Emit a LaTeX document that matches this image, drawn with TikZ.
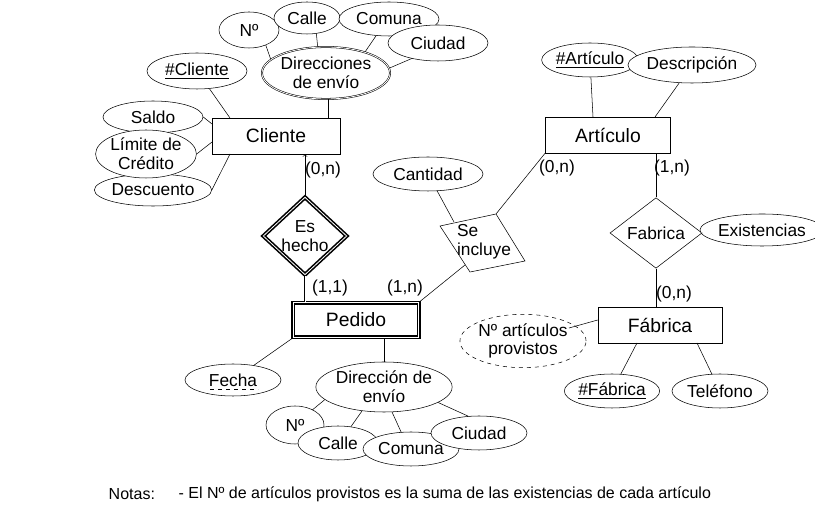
\documentclass[tikz,border=0pt]{standalone}
\usepackage{fontspec}
\setmainfont{Liberation Sans}
\usetikzlibrary{shapes.geometric}
\begin{document}
\begin{tikzpicture}[x=0.75pt,y=-0.75pt,font=\fontsize{13}{14}\selectfont,
  ent/.style={draw,thin,fill=white,minimum width=96pt,minimum height=27pt,inner sep=0pt,font=\fontsize{14.5}{15}\selectfont},
  att/.style={draw,thin,ellipse,fill=white,inner sep=0pt,align=center},
  lbl/.style={inner sep=0pt}]
\useasboundingbox (0,0) rectangle (815,505);
\def\att#1#2#3#4#5#6{\node[att,minimum width=#4*1.5pt,minimum height=#5*1.5pt] (#1) at (#2,#3) {#6};}
% Cliente side
\draw (264,40) -- (272,63);
\draw (316,30) -- (318,50);
\draw (380,30) -- (365,52);
\draw (420,55) -- (385,70);
\node[ent] (cli) at (276,136) {Cliente};
\node[att,double,minimum width=93pt,minimum height=39pt] (dir) at (326,73) {Direcciones\\de envío};
\att{no}{249}{30}{30}{18}{Nº}
\att{calle}{307}{18}{33}{16}{Calle}
\att{comuna}{389}{19}{50}{17}{Comuna}
\att{ciudad}{438}{43}{50}{18}{Ciudad}
\att{ncli}{197}{71}{50}{18}{\underline{\#Cliente}}
\att{saldo}{153}{117}{50}{16}{Saldo}
\att{desc}{153}{190}{50}{16}{Descuento}
\att{lim}{146}{154}{45}{24}{Límite de\\Crédito}
\draw (dir.south -| 328,0) -- (328,118);
\draw (ncli) -- (230,118);
\draw (saldo.east) -- (212,124);
\draw (lim.east) -- (212,142);
\draw (desc.east) -- (230,154);
% Es hecho
\node[draw,diamond,double,very thick,fill=white,minimum width=63pt,minimum height=48pt,inner sep=0pt,align=center] (es) at (305,236) {Es\\hecho};
\draw[->] (es.north) -- (es.north |- cli.south);
\node[lbl] (l1) at (323,170) {(0,n)};
% Pedido
\node[ent,double,very thick,minimum width=94pt,minimum height=26pt] (ped) at (356,320) {Pedido};
\draw[double] (es.south) -- (es.south |- ped.north);
\node[lbl] (l2) at (330,288) {(1,1)};
\node[lbl] (l3) at (405,288) {(1,n)};
\att{fecha}{233}{380}{48}{16}{Fecha}
\draw[dashed] (210,389) -- (258,389);
\draw (ped.south west) -- (fecha);
\draw (328,397) -- (305,416);
\draw (362,411) -- (350,428);
\draw (392,412) -- (402,434);
\draw (437,402) -- (470,417);
\att{dno}{295}{425}{29}{19}{Nº}
\att{dcalle}{338}{443}{40}{17}{Calle}
\att{dcom}{411}{449}{48}{17}{Comuna}
\att{dciu}{479}{433}{48}{17}{Ciudad}
\att{ddir}{384}{387}{63}{25}{Dirección de\\envío}
\draw (ped.south -| ddir) -- (ddir.north);
% Se incluye
\att{cant}{428}{174}{55}{17}{Cantidad}
\draw[fill=white] (440,226) -- (496,214) -- (525,261) -- (470,272) -- cycle;
\node[align=left] (set) at (484,242) {Se\\incluye};
\draw (cant) -- (454,222);
% Articulo
\node[ent,minimum width=94pt] (art) at (608,135) {Artículo};
\att{nart}{590}{60}{45}{17}{\underline{\#Artículo}}
\att{descr}{692}{65}{58}{18}{Descripción}
\draw (nart) -- (593,117);
\draw (descr) -- (655,117);
\draw (art.south west) -- (496,214);
\draw (ped.north east) -- (465,265);
\node[lbl] (l4) at (557,168) {(0,n)};
\node[lbl] (l5) at (672,168) {(1,n)};
% Fabrica
\node[draw,diamond,fill=white,minimum width=69pt,minimum height=50pt,inner sep=0pt] (fab) at (656,233) {Fabrica};
\draw (fab.north) -- (fab.north |- art.south);
\att{exis}{762}{230}{47}{16}{Existencias}
\draw (fab.east) -- (exis);
\node[ent,minimum width=93pt] (fabr) at (660,325) {Fábrica};
\draw (fab.south) -- (fab.south |- fabr.north);
\node[lbl] (l6) at (674,294) {(0,n)};
\node[att,dashed,minimum width=72pt,minimum height=40pt] (npro) at (523,341) {Nº artículos\\provistos};
\draw (569,328) -- (fabr.west |- 0,320);
\att{nfab}{612}{391}{45}{17}{\underline{\#Fábrica}}
\att{tel}{720}{391}{48}{17}{Teléfono}
\draw (nfab) -- (637,343);
\draw (tel) -- (697,343);
% Notas
\node[anchor=west,font=\fontsize{12}{13}\selectfont] (notas) at (104,494) {Notas:};
\node[anchor=west,font=\fontsize{12}{13}\selectfont] (nota1) at (174,494) {- El Nº de artículos provistos es la suma de las existencias de cada artículo};
\end{tikzpicture}
\end{document}
